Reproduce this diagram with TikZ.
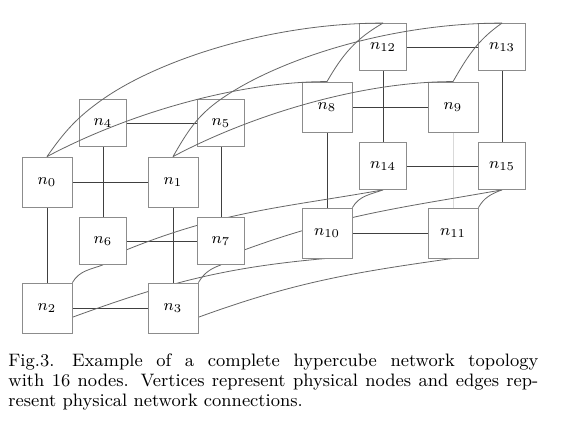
\documentclass[tikz,border=0pt]{standalone}
\usepackage{amsmath}
\usepackage{tikz}
\usetikzlibrary{backgrounds}
\tikzstyle{hnode}=[draw=black!45,fill=white,minimum size=25pt,inner sep=0pt,font=\footnotesize]
\tikzstyle{hback}=[hnode,minimum size=23.5pt]
\tikzstyle{hedge}=[line width=.4pt,black!75]
\tikzstyle{hcurve}=[line width=.4pt,black!60]
\begin{document}
\begin{tikzpicture}[x=.5pt,y=.5pt]
	\useasboundingbox (0,0) rectangle (563,421);
	\node[hnode] (n0) at (47,239) {$n_0$};
	\node[hnode] (n1) at (173,239) {$n_1$};
	\node[hnode] (n2) at (47,113) {$n_2$};
	\node[hnode] (n3) at (173,113) {$n_3$};
	\node[hback] (n4) at (103,298) {$n_4$};
	\node[hback] (n5) at (221,298) {$n_5$};
	\node[hback] (n6) at (103,180) {$n_6$};
	\node[hback] (n7) at (221,180) {$n_7$};
	\node[hnode] (n8) at (327,314) {$n_8$};
	\node[hnode] (n9) at (453,314) {$n_9$};
	\node[hnode] (n10) at (327,188) {$n_{10}$};
	\node[hnode] (n11) at (453,188) {$n_{11}$};
	\node[hback] (n12) at (383,374) {$n_{12}$};
	\node[hback] (n13) at (502,374) {$n_{13}$};
	\node[hback] (n14) at (383,255) {$n_{14}$};
	\node[hback] (n15) at (502,255) {$n_{15}$};
	\begin{pgfonlayer}{background}
		\fill[white] (0,0) rectangle (563,421);
		\draw[hedge] (n0) -- (n1);
		\draw[hedge] (n0) -- (n2);
		\draw[hedge] (n1) -- (n3);
		\draw[hedge] (n2) -- (n3);
		\draw[hedge] (n4) -- (n5);
		\draw[hedge] (n4) -- (n6);
		\draw[hedge] (n5) -- (n7);
		\draw[hedge] (n6) -- (n7);
		\draw[hedge] (n8) -- (n9);
		\draw[hedge] (n8) -- (n10);
		\draw[hedge,black!15] (n9) -- (n11);
		\draw[hedge] (n10) -- (n11);
		\draw[hedge] (n12) -- (n13);
		\draw[hedge] (n12) -- (n14);
		\draw[hedge] (n13) -- (n15);
		\draw[hedge] (n14) -- (n15);
		\draw[hcurve] (n2.north east) to[out=60,in=200] (n6.south);
		\draw[hcurve] (n3.north east) to[out=60,in=200] (n7.south);
		\draw[hcurve] (n10.north east) to[out=60,in=200] (n14.south);
		\draw[hcurve] (n11.north east) to[out=60,in=200] (n15.south);
		\draw[hcurve] (n2.-20) to[out=20,in=185] (n10.south);
		\draw[hcurve] (n3.-20) to[out=20,in=188] (n11.south);
		\draw[hcurve] (n6.-20) to[out=22,in=190] (n14.south);
		\draw[hcurve] (n7.-20) to[out=20,in=190] (n15.south);
	\end{pgfonlayer}
	\draw[hcurve] (n0.north) to[out=55,in=215] (n4.north);
	\draw[hcurve] (n4.north) to[out=35,in=180,out looseness=.6] (n12.north);
	\draw[hcurve] (n0.north) to[out=28,in=180,looseness=.8] (n8.north);
	\draw[hcurve] (n1.north) to[out=60,in=215] (n5.north);
	\draw[hcurve] (n5.north) to[out=35,in=180,out looseness=.6] (n13.north);
	\draw[hcurve] (n1.north) to[out=28,in=180,looseness=.8] (n9.north);
	\draw[hcurve] (n8.north) to[out=60,in=210] (n12.north);
	\draw[hcurve] (n9.north) to[out=60,in=215] (n13.north);
	\node[anchor=north west,inner sep=0pt,text width=265pt,align=justify,font=\fontsize{9}{10}\selectfont] (cap) at (8,68) {Fig.3.\hskip 2pt\ Example of a complete hypercube network topology\linebreak with 16 nodes. Vertices represent physical nodes and edges rep-\linebreak resent physical network connections.};
\end{tikzpicture}
\end{document}
